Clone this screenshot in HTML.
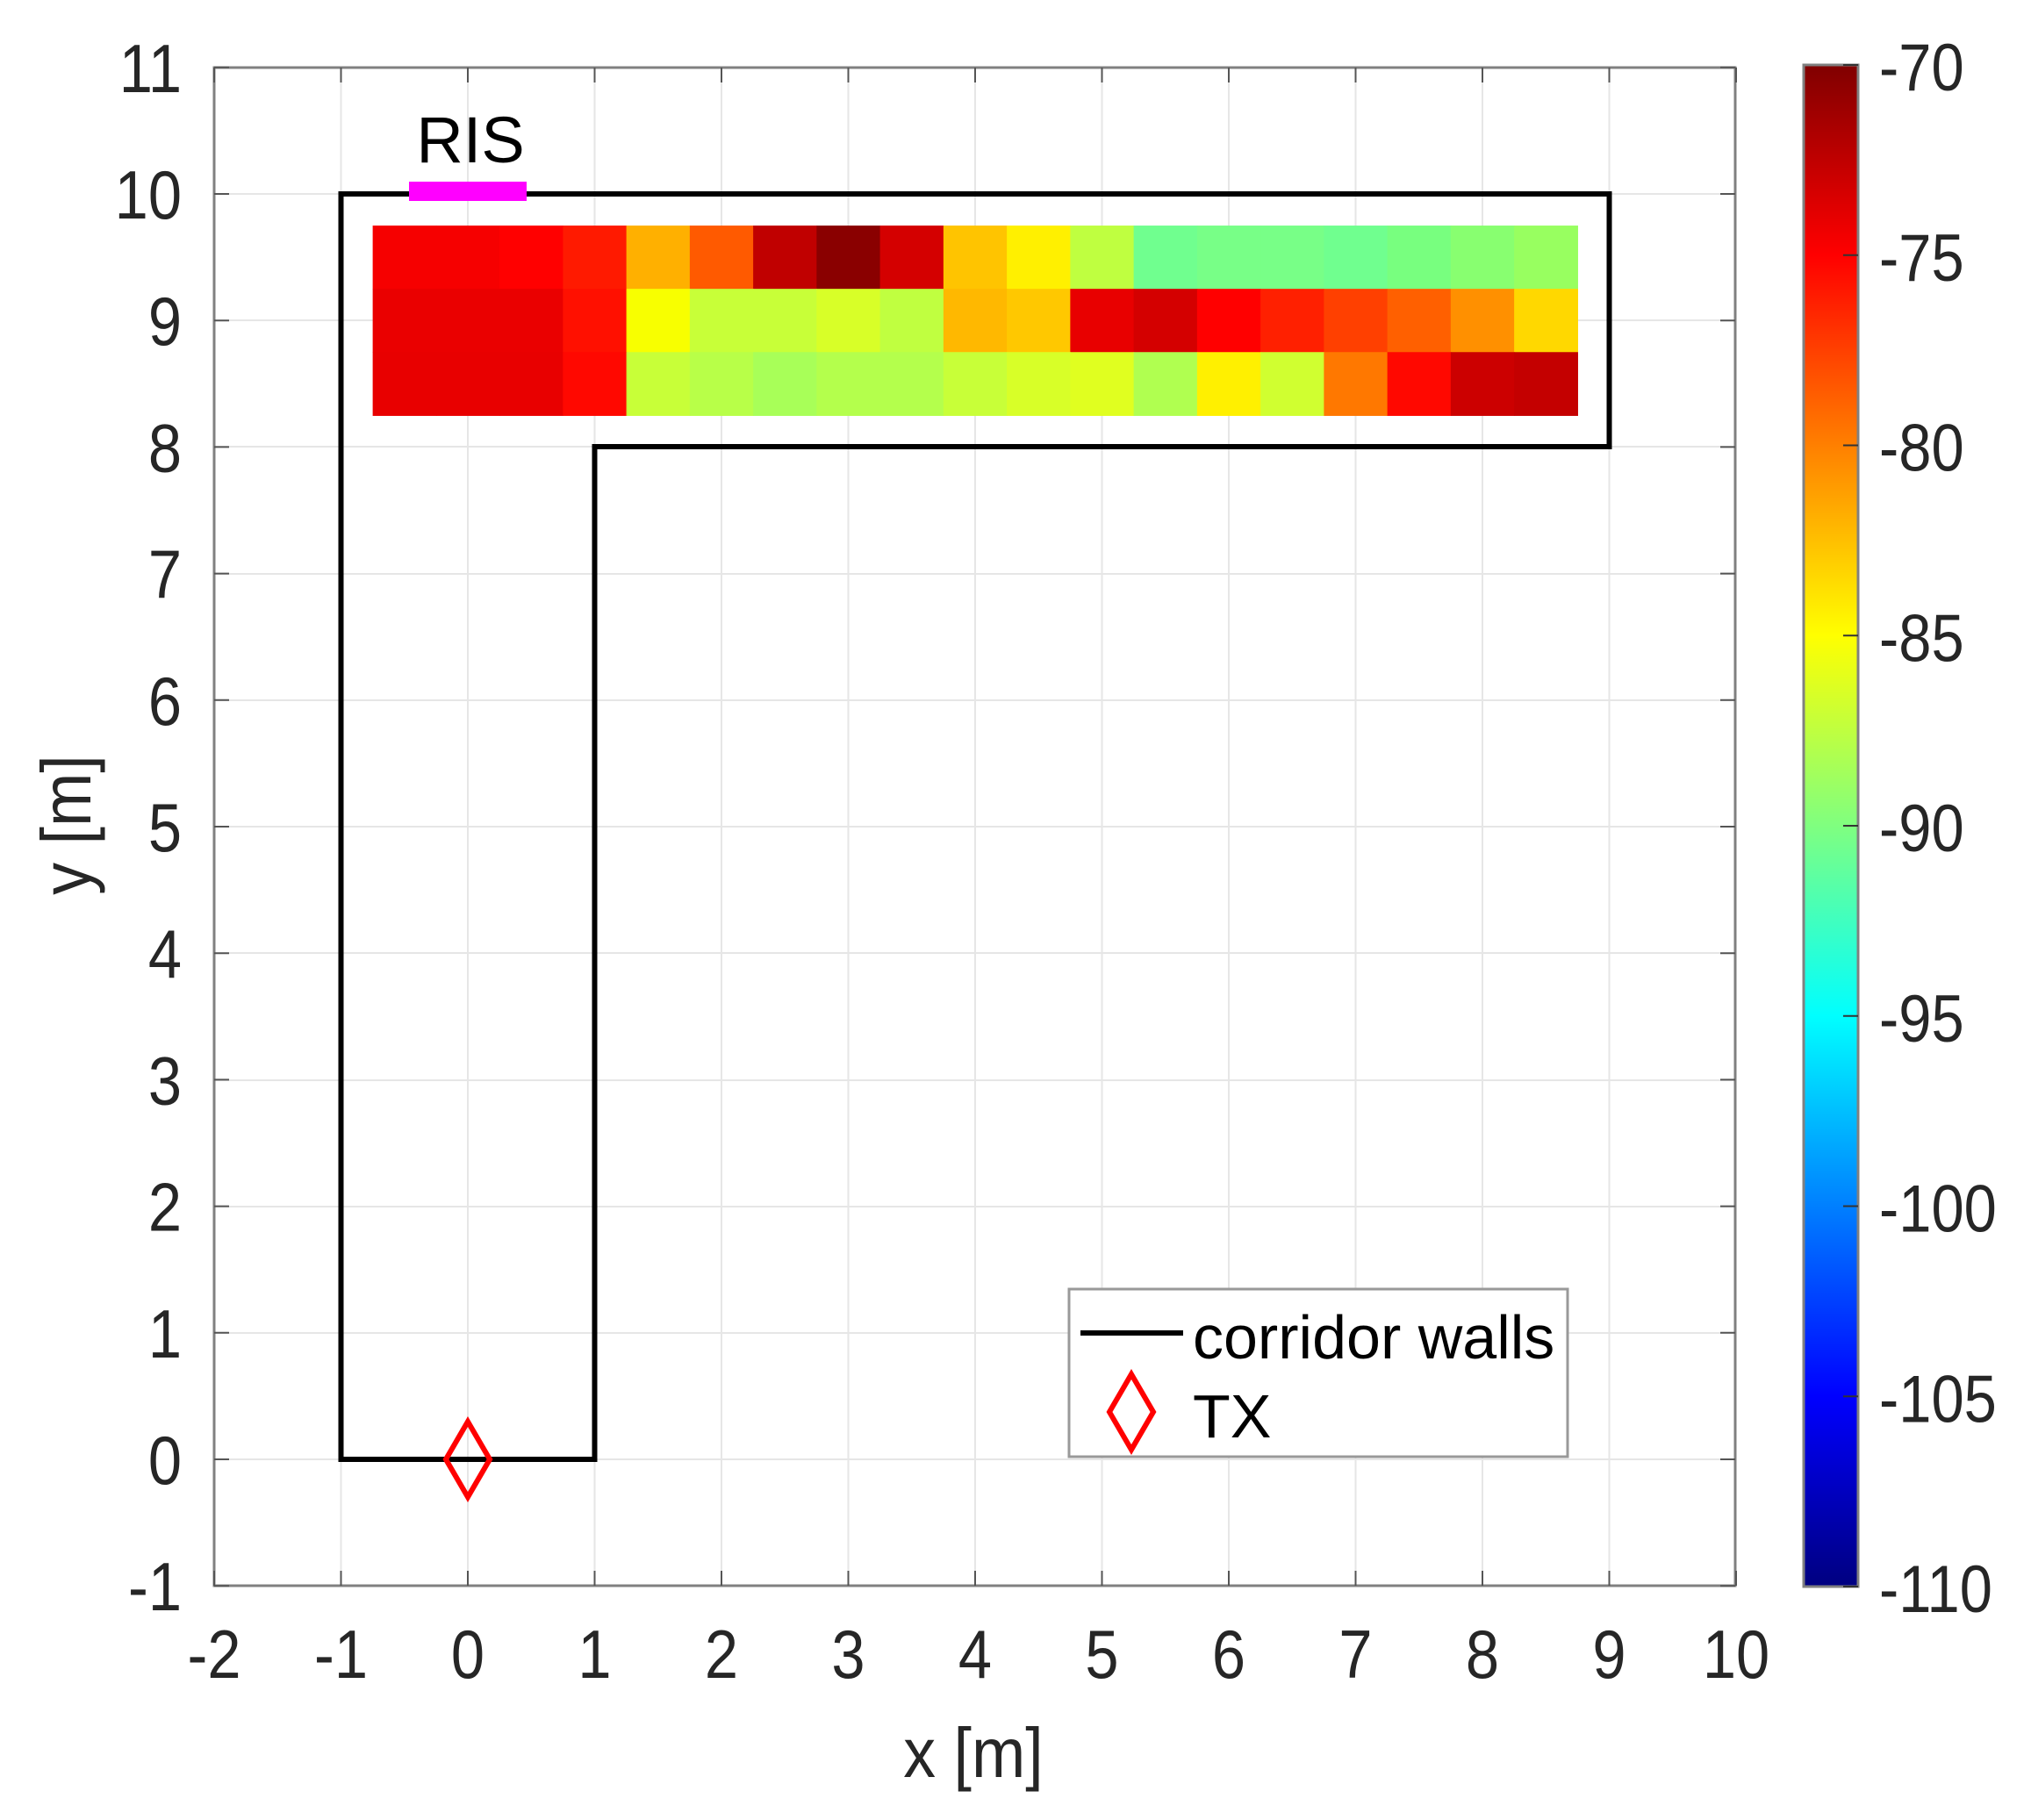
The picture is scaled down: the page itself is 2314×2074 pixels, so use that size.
<!DOCTYPE html>
<html><head><meta charset="utf-8"><style>
html,body{margin:0;padding:0;background:#fff;}
svg{display:block;}
text{font-family:"Liberation Sans",Arial,sans-serif;fill:#262626;}
</style></head><body>
<svg width="2314" height="2074" viewBox="0 0 2314 2074" xmlns="http://www.w3.org/2000/svg">
<defs>
<linearGradient id="jet" x1="0" y1="1" x2="0" y2="0">
<stop offset="0" stop-color="#000080"/>
<stop offset="0.125" stop-color="#0000ff"/>
<stop offset="0.375" stop-color="#00ffff"/>
<stop offset="0.625" stop-color="#ffff00"/>
<stop offset="0.875" stop-color="#ff0000"/>
<stop offset="1" stop-color="#800000"/>
</linearGradient>
</defs>
<rect width="2314" height="2074" fill="#fff"/>
<g stroke="#e6e6e6" stroke-width="2">
<line x1="388.5" y1="77" x2="388.5" y2="1807"/><line x1="533" y1="77" x2="533" y2="1807"/>
<line x1="677.5" y1="77" x2="677.5" y2="1807"/><line x1="822" y1="77" x2="822" y2="1807"/>
<line x1="966.5" y1="77" x2="966.5" y2="1807"/><line x1="1111" y1="77" x2="1111" y2="1807"/>
<line x1="1255.5" y1="77" x2="1255.5" y2="1807"/><line x1="1400" y1="77" x2="1400" y2="1807"/>
<line x1="1544.5" y1="77" x2="1544.5" y2="1807"/><line x1="1689" y1="77" x2="1689" y2="1807"/>
<line x1="1833.5" y1="77" x2="1833.5" y2="1807"/>
<line x1="244" y1="221" x2="1977" y2="221"/><line x1="244" y1="365" x2="1977" y2="365"/>
<line x1="244" y1="509" x2="1977" y2="509"/><line x1="244" y1="654" x2="1977" y2="654"/>
<line x1="244" y1="798" x2="1977" y2="798"/><line x1="244" y1="942" x2="1977" y2="942"/>
<line x1="244" y1="1086" x2="1977" y2="1086"/><line x1="244" y1="1231" x2="1977" y2="1231"/>
<line x1="244" y1="1375" x2="1977" y2="1375"/><line x1="244" y1="1519" x2="1977" y2="1519"/>
<line x1="244" y1="1663" x2="1977" y2="1663"/>
</g>
<g id="hm"></g>
<rect x="244" y="77" width="1733" height="1730" fill="none" stroke="#808080" stroke-width="3"/>
<g stroke="#555" stroke-width="2" id="ticks"></g>
<polygon points="388.5,1663 388.5,221 1833.5,221 1833.5,509 677.5,509 677.5,1663" fill="none" stroke="#000" stroke-width="6"/>
<rect x="466" y="207" width="134" height="22" fill="#ff00ff"/>
<text x="536" y="185" font-size="74" text-anchor="middle" style="fill:#000">RIS</text>
<polygon points="533,1620 558,1663 533,1706 508,1663" fill="none" stroke="#ff0000" stroke-width="6"/>
<rect x="1218" y="1469" width="568" height="191" fill="#fff" stroke="#999" stroke-width="3"/>
<line x1="1231" y1="1519" x2="1348" y2="1519" stroke="#000" stroke-width="6"/>
<text x="1359" y="1548" font-size="70" style="fill:#000">corridor walls</text>
<polygon points="1289,1566 1314,1609 1289,1652 1264,1609" fill="none" stroke="#ff0000" stroke-width="6"/>
<text x="1359" y="1638" font-size="70" style="fill:#000">TX</text>
<rect x="2055" y="74" width="62" height="1734" fill="url(#jet)" stroke="#808080" stroke-width="3"/>
<g id="cb"></g>
<g id="labels" font-size="78"></g>
<text transform="translate(1109,2025) scale(0.92,1)" font-size="80" text-anchor="middle">x [m]</text>
<text transform="translate(103,940) rotate(-90) scale(0.92,1)" font-size="80" text-anchor="middle">y [m]</text>
</svg>
<script>
var NS="http://www.w3.org/2000/svg";
function el(p,t,a,txt){var e=document.createElementNS(NS,t);for(var k in a)e.setAttribute(k,a[k]);if(txt!==undefined)e.textContent=txt;p.appendChild(e);return e;}
var X=function(x){return 533+144.5*x;},Y=function(y){return 1663-144.2*y;};
var rows=[
["#f60000","#f60000","#ff0000","#ff1a00","#ffb000","#ff5a00","#c00000","#8a0000","#d40000","#ffc400","#fff000","#bfff40","#70ff8f","#78ff87","#78ff87","#70ff8f","#78ff7f","#88ff70","#98ff60"],
["#ea0000","#ea0000","#ea0000","#ff1000","#f8ff00","#c8ff38","#c8ff38","#d8ff28","#c0ff40","#ffb800","#ffc800","#e80000","#d40000","#ff0000","#ff2000","#ff4000","#ff6000","#ff9000","#ffd800"],
["#e80000","#e80000","#e80000","#ff0800","#c8ff38","#b8ff48","#a8ff58","#b4ff4c","#b4ff4c","#c8ff38","#d8ff28","#e0ff20","#b0ff50","#fff000","#d0ff30","#ff7800","#ff0800","#cc0000","#c40000"]];
var hm=document.getElementById("hm");
for(var r=0;r<3;r++)for(var c=0;c<19;c++){
var x0=X(-0.75+0.5*c),y0=Y(9.75-0.5*r);
el(hm,"rect",{x:x0,y:y0,width:144.5*0.5+0.6,height:144.2*0.5+0.6,fill:rows[r][c]});}
var tk=document.getElementById("ticks"),lb=document.getElementById("labels");
for(var i=-2;i<=10;i++){var x=X(i);
el(tk,"line",{x1:x,y1:1807,x2:x,y2:1790});el(tk,"line",{x1:x,y1:77,x2:x,y2:94});
el(lb,"text",{transform:"translate("+x+",1912) scale(0.88,1)","text-anchor":"middle"},String(i));}
for(var j=-1;j<=11;j++){var y=Y(j);
el(tk,"line",{x1:244,y1:y,x2:261,y2:y});el(tk,"line",{x1:1977,y1:y,x2:1960,y2:y});
el(lb,"text",{transform:"translate(207,"+(y+28)+") scale(0.88,1)","text-anchor":"end"},String(j));}
var cb=document.getElementById("cb");
for(var v=-70;v>=-110;v-=5){var y=74+(-70-v)/40*1734;
el(cb,"line",{x1:2100,y1:y,x2:2117,y2:y,stroke:"#333","stroke-width":2});
el(cb,"text",{transform:"translate(2141,"+(y+29)+") scale(0.88,1)","font-size":"76"},String(v));}
</script>
</body></html>
